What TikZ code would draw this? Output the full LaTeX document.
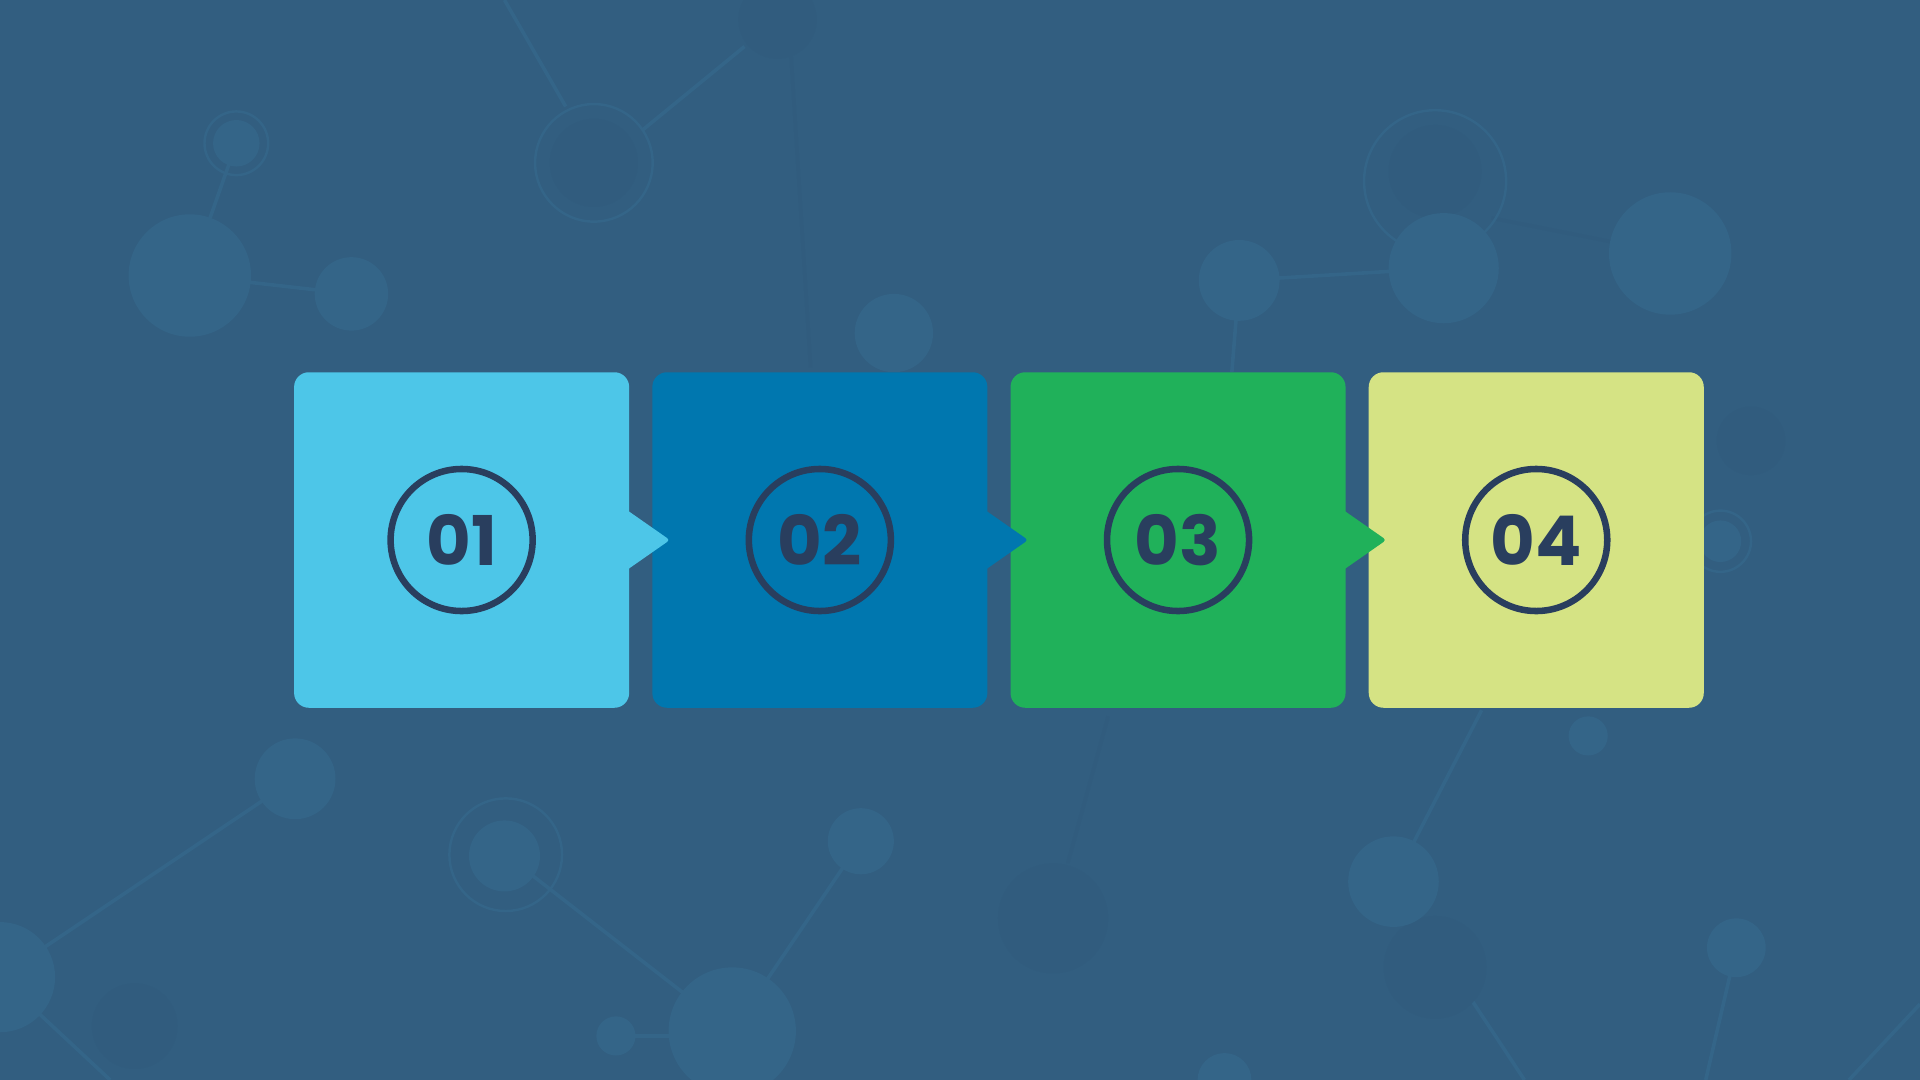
\documentclass[tikz,border=0pt]{standalone}
\usepackage{fontspec}
\newfontfamily\numfont{Poppins}
\usetikzlibrary{positioning}
\definecolor{bgblue}{HTML}{325E80}
\definecolor{molblue}{HTML}{346588}
\definecolor{molshade}{HTML}{315C7E}
\definecolor{navy}{HTML}{293E5E}
\definecolor{skyone}{HTML}{4DC6E8}
\definecolor{seatwo}{HTML}{0077AF}
\definecolor{greenthree}{HTML}{20B15A}
\definecolor{limefour}{HTML}{D5E384}

\begin{document}
\begin{tikzpicture}[x=0.75pt,y=0.75pt,yscale=-1,xscale=1,
  stepbox/.style={rectangle, rounded corners=9pt, minimum width=205.2pt, minimum height=205.5pt, inner sep=0pt},
  numring/.style={circle, draw=navy, line width=4pt, minimum size=87pt, inner sep=0pt, text=navy, font=\numfont\bfseries\fontsize{42}{42}\selectfont},
  mol/.style={fill=molblue},
  shade/.style={fill=molshade},
  bond/.style={draw=molblue, line width=2.2pt},
  halo/.style={draw=molblue, line width=1.5pt}]

%Background
\useasboundingbox (0,0) rectangle (1568,882);
\clip (0,0) rectangle (1568,882);
\fill[bgblue] (0,0) rectangle (1568,882);

%Molecule top left
\draw[bond] (155,225) -- (287,240) ;
\draw[bond] (155,225) -- (193,117) ;
\fill[mol] (155,225) circle (50) ;
\fill[mol] (287,240) circle (30) ;
\fill[mol] (193,117) circle (19) ;
\draw[halo] (193,117) circle (26) ;

%Molecule top middle
\draw[bond] (412,0) -- (462,87) ;
\draw[bond] (525,106) -- (608,38) ;
\draw[halo] (485,133) circle (48) ;
\fill[shade] (485,133) circle (36) ;
\fill[shade] (635,16) circle (32) ;
\draw[bond, draw=molshade] (646,45) -- (662,300) ;
\fill[mol] (730,272) circle (32) ;

%Molecule top right
\draw[bond] (1012,229) -- (1179,219) ;
\draw[bond] (1012,229) -- (1006,304) ;
\draw[bond, draw=molshade] (1218,178) -- (1364,207) ;
\draw[halo] (1172,148) circle (58) ;
\fill[shade] (1172,140) circle (38) ;
\fill[mol] (1012,229) circle (33) ;
\fill[mol] (1179,219) circle (45) ;
\fill[mol] (1364,207) circle (50) ;
\fill[shade] (1430,360) circle (28) ;
\draw[halo] (1405,442) circle (25) ;
\fill[mol] (1405,442) circle (17) ;

%Molecule bottom left
\draw[bond] (241,636) -- (0,798) ;
\draw[bond] (0,798) -- (90,882) ;
\fill[mol] (241,636) circle (33) ;
\fill[mol] (0,798) circle (45) ;
\fill[shade] (110,838) circle (35) ;
\draw[bond] (413,698) -- (598,842) ;
\draw[bond] (703,687) -- (598,842) ;
\draw[bond] (503,846) -- (598,846) ;
\draw[halo] (413,698) circle (46) ;
\fill[mol] (412,699) circle (29) ;
\fill[mol] (598,842) circle (52) ;
\fill[mol] (703,687) circle (27) ;
\fill[mol] (503,846) circle (16) ;

%Molecule bottom right
\draw[bond, draw=molshade] (905,585) -- (872,705) ;
\fill[shade] (860,750) circle (45) ;
\draw[bond] (1210,580) -- (1138,720) -- (1245,882) ;
\fill[shade] (1172,790) circle (42) ;
\fill[mol] (1138,720) circle (37) ;
\fill[mol] (1297,601) circle (16) ;
\draw[bond] (1418,774) -- (1393,882) ;
\fill[mol] (1418,774) circle (24) ;
\draw[bond] (1510,882) -- (1568,820) ;
\fill[mol] (1000,882) circle (22) ;

%Boxes
\node[stepbox, fill=skyone] (box1) at (377,441) {};
\node[stepbox, fill=seatwo, right=13.8pt of box1] (box2) {};
\node[stepbox, fill=greenthree, right=13.8pt of box2] (box3) {};
\node[stepbox, fill=limefour, right=13.8pt of box3] (box4) {};

%Tabs
\fill[skyone, rounded corners=2pt] ([xshift=-7.5pt,yshift=22.5pt]box1.east) -- ([xshift=24.75pt]box1.east) -- ([xshift=-7.5pt,yshift=-22.5pt]box1.east) -- cycle ;
\fill[seatwo, rounded corners=2pt] ([xshift=-7.5pt,yshift=22.5pt]box2.east) -- ([xshift=24.75pt]box2.east) -- ([xshift=-7.5pt,yshift=-22.5pt]box2.east) -- cycle ;
\fill[greenthree, rounded corners=2pt] ([xshift=-7.5pt,yshift=22.5pt]box3.east) -- ([xshift=24.75pt]box3.east) -- ([xshift=-7.5pt,yshift=-22.5pt]box3.east) -- cycle ;

% Number Nodes
\node[numring] (ring1) at (box1.center) {01};
\node[numring] (ring2) at (box2.center) {02};
\node[numring] (ring3) at (box3.center) {03};
\node[numring] (ring4) at (box4.center) {04};

\end{tikzpicture}
\end{document}
